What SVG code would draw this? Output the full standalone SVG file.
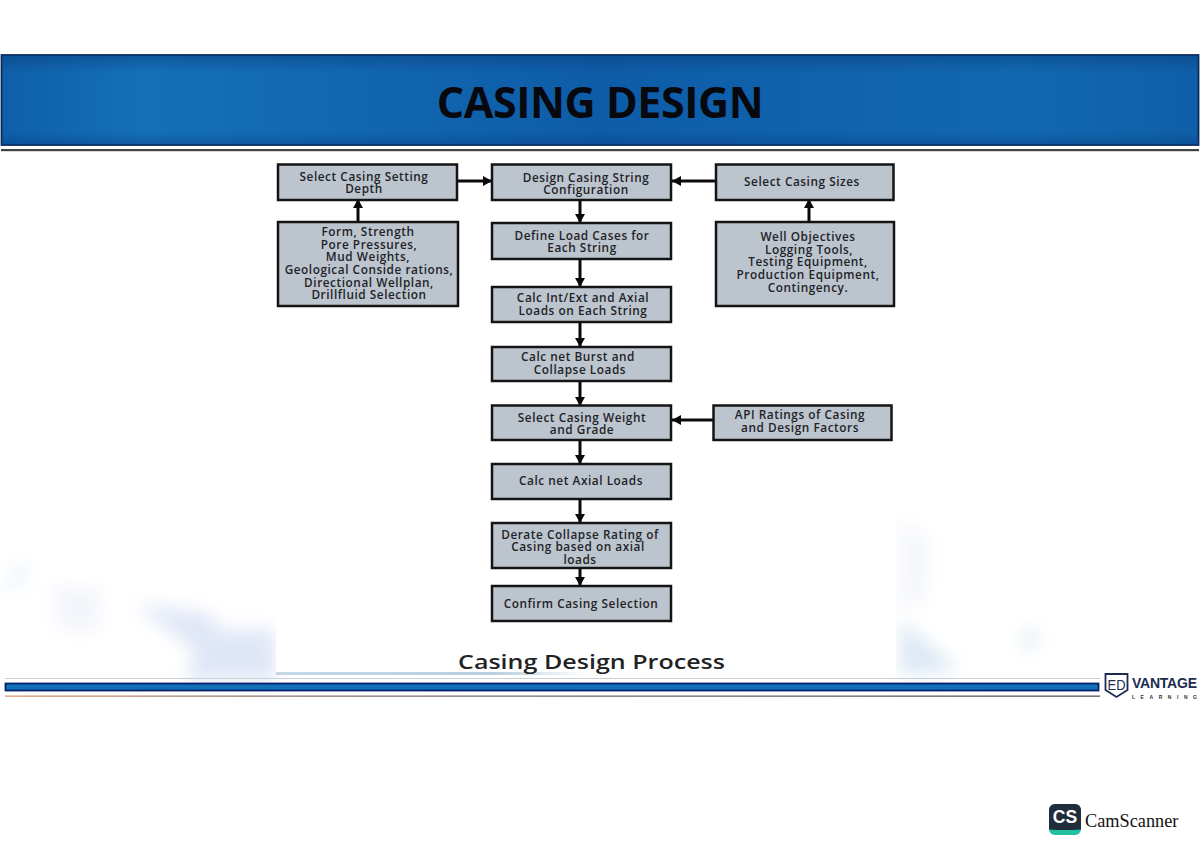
<svg xmlns="http://www.w3.org/2000/svg" width="1200" height="848" viewBox="0 0 1200 848">
<style>
.box{fill:#bcc5ce;stroke:#141414;stroke-width:2.5}
.t{font-family:"Open Sans","DejaVu Sans",sans-serif;font-size:11.8px;font-weight:600;letter-spacing:.55px;fill:#1f2328;text-anchor:middle}
.c{stroke:#0a0a0a;stroke-width:3;fill:none}
</style>
<defs>
<marker id="ah" markerUnits="userSpaceOnUse" markerWidth="12" markerHeight="12" refX="9" refY="5" orient="auto"><path d="M0 0L9 5L0 10Z" fill="#0a0a0a"/></marker>
<linearGradient id="band" x1="0" x2="1" y1="0" y2="0"><stop offset="0" stop-color="#0e5fa9"/><stop offset=".12" stop-color="#1570b8"/><stop offset=".5" stop-color="#0e5ca8"/><stop offset=".85" stop-color="#1268b0"/><stop offset="1" stop-color="#0f5fa8"/></linearGradient>
<linearGradient id="bandv" x1="0" x2="0" y1="0" y2="1"><stop offset="0" stop-color="#0a3f80" stop-opacity=".5"/><stop offset=".2" stop-color="#0a3f80" stop-opacity="0"/><stop offset=".85" stop-color="#0a3f80" stop-opacity="0"/><stop offset="1" stop-color="#0a3f80" stop-opacity=".45"/></linearGradient>
<linearGradient id="rule" x1="0" x2="1" y1="0" y2="0"><stop offset="0" stop-color="#d89a70"/><stop offset=".25" stop-color="#8a7a70"/><stop offset="1" stop-color="#555"/></linearGradient>
<linearGradient id="strip" x1="0" x2="1" y1="0" y2="0"><stop offset="0" stop-color="#c4d8e8"/><stop offset=".35" stop-color="#b8cede"/><stop offset=".5" stop-color="#fff"/><stop offset="1" stop-color="#fff"/></linearGradient>
<filter id="blur" x="-40%" y="-40%" width="180%" height="180%"><feGaussianBlur stdDeviation="9"/></filter>
</defs>
<rect width="1200" height="848" fill="#fff"/>
<g filter="url(#blur)">
<path d="M0 590L24 558L30 575L18 588Z" fill="#ecf5fa"/>
<path d="M54 585L100 590L100 630L58 630Z" fill="#f3f5fb"/>
<path d="M135 605L205 612L222 630L276 630L276 680L185 680L195 650Z" fill="#dfe6f6"/>
<path d="M900 520L930 540L925 600L900 610Z" fill="#f4f6fa"/>
<path d="M900 620L960 670L900 675Z" fill="#dce8f4"/>
<path d="M1020 632L1040 632L1038 648L1024 648Z" fill="#e2ebf4"/>
</g>
<rect x="276" y="440" width="620" height="234" fill="#fff"/>
<rect x="276" y="672" width="620" height="3" fill="url(#strip)"/>
<g id="header">
<rect x="1.500" y="55" width="1197" height="90" fill="url(#band)" stroke="#0a2a5c" stroke-width="1.800"/>
<rect x="1.500" y="55" width="1197" height="90" fill="url(#bandv)"/>
<rect x="1" y="149" width="1198" height="2.200" fill="#444"/>
<text x="600" y="118" font-family="'Open Sans','Liberation Sans',sans-serif" font-size="43" font-weight="700" letter-spacing="-.45" fill="#07090e" text-anchor="middle">CASING DESIGN</text>
</g>
<g id="connectors">
<path class="c" d="M458 181H492" marker-end="url(#ah)"/>
<path class="c" d="M716 181H672" marker-end="url(#ah)"/>
<path class="c" d="M358 222V199" marker-end="url(#ah)"/>
<path class="c" d="M809 222V199" marker-end="url(#ah)"/>
<path class="c" d="M580 200V223" marker-end="url(#ah)"/>
<path class="c" d="M580 259V287" marker-end="url(#ah)"/>
<path class="c" d="M580 322V347" marker-end="url(#ah)"/>
<path class="c" d="M580 381V406" marker-end="url(#ah)"/>
<path class="c" d="M714 420H672" marker-end="url(#ah)"/>
<path class="c" d="M580 440V464" marker-end="url(#ah)"/>
<path class="c" d="M580 499V523" marker-end="url(#ah)"/>
<path class="c" d="M580 568V586" marker-end="url(#ah)"/>
</g>
<g id="n1"><rect class="box" x="278" y="164.500" width="179" height="35.500"/><text class="t" x="364" y="180.500">Select Casing Setting</text><text class="t" x="364" y="193">Depth</text></g>
<g id="n2"><rect class="box" x="278" y="222" width="180" height="84"/><text class="t" x="368" y="236">Form, Strength</text><text class="t" x="369" y="248.500">Pore Pressures,</text><text class="t" x="368" y="261">Mud Weights,</text><text class="t" x="369" y="274">Geological Conside rations,</text><text class="t" x="369" y="286.500">Directional Wellplan,</text><text class="t" x="369" y="299">Drillfluid Selection</text></g>
<g id="n3"><rect class="box" x="492" y="164.500" width="179" height="35.500"/><text class="t" x="586" y="181.500">Design Casing String</text><text class="t" x="586" y="194">Configuration</text></g>
<g id="n4"><rect class="box" x="716" y="164.500" width="177.500" height="35.500"/><text class="t" x="802" y="185.500">Select Casing Sizes</text></g>
<g id="n5"><rect class="box" x="716" y="222" width="178" height="84"/><text class="t" x="808" y="241">Well Objectives</text><text class="t" x="809" y="254">Logging Tools,</text><text class="t" x="808" y="266">Testing Equipment,</text><text class="t" x="808" y="279">Production Equipment,</text><text class="t" x="808" y="292">Contingency.</text></g>
<g id="n6"><rect class="box" x="492" y="223" width="179" height="36"/><text class="t" x="582" y="239.500">Define Load Cases for</text><text class="t" x="582" y="252">Each String</text></g>
<g id="n7"><rect class="box" x="492" y="287" width="179" height="35"/><text class="t" x="583" y="302">Calc Int/Ext and Axial</text><text class="t" x="583" y="315">Loads on Each String</text></g>
<g id="n8"><rect class="box" x="492" y="347" width="179" height="34"/><text class="t" x="578" y="361">Calc net Burst and</text><text class="t" x="580" y="373.500">Collapse Loads</text></g>
<g id="n9"><rect class="box" x="492" y="405.500" width="179" height="34.500"/><text class="t" x="582" y="422">Select Casing Weight</text><text class="t" x="582" y="434">and Grade</text></g>
<g id="n10"><rect class="box" x="713.500" y="405.500" width="178" height="34.500"/><text class="t" x="800" y="419">API Ratings of Casing</text><text class="t" x="800" y="432">and Design Factors</text></g>
<g id="n11"><rect class="box" x="492" y="464" width="179" height="35"/><text class="t" x="581" y="484.500">Calc net Axial Loads</text></g>
<g id="n12"><rect class="box" x="492" y="523" width="179" height="45"/><text class="t" x="580" y="538.500">Derate Collapse Rating of</text><text class="t" x="578" y="551">Casing based on axial</text><text class="t" x="580" y="564">loads</text></g>
<g id="n13"><rect class="box" x="492" y="586" width="179" height="35"/><text class="t" x="581" y="608">Confirm Casing Selection</text></g>
<text x="458" y="669" font-family="'Open Sans',sans-serif" font-size="19" font-weight="600" fill="#232323" textLength="267" lengthAdjust="spacingAndGlyphs">Casing Design Process</text>
<g id="footer">
<rect x="5" y="678" width="1095" height="1" fill="#c8d0d6"/>
<rect x="5.500" y="683.500" width="1093" height="7" fill="#1170b8" stroke="#05206e" stroke-width="1.800"/>
<rect x="5" y="695.500" width="1095" height="1.300" fill="url(#rule)"/>
</g>
<g id="logo">
<path d="M1105.500 674H1127.500V690L1116.500 697L1105.500 690Z" fill="#fff" stroke="#1c2c50" stroke-width="1.800"/>
<text x="1116.500" y="690" font-family="'Liberation Sans',sans-serif" font-size="15" fill="#1c2c50" text-anchor="middle" textLength="18" lengthAdjust="spacingAndGlyphs">ED</text>
<text x="1132" y="688" font-family="'Liberation Sans',sans-serif" font-size="14" font-weight="700" fill="#1c2c50" textLength="65" lengthAdjust="spacing">VANTAGE</text>
<text x="1132" y="699" font-family="'Liberation Sans',sans-serif" font-size="5" font-weight="700" fill="#333" textLength="65" lengthAdjust="spacing">LEARNING</text>
</g>
<g id="camscanner">
<rect x="1049" y="804" width="32" height="31" rx="6" fill="#20c0a0"/>
<path d="M1049 810a6 6 0 0 1 6-6h20a6 6 0 0 1 6 6v19.500q-16 1-32 0Z" fill="#1f2d3d"/>
<text x="1065" y="823" font-family="'Liberation Sans',sans-serif" font-size="17.500" font-weight="700" fill="#fff" text-anchor="middle">CS</text>
<text x="1085" y="827" font-family="'Liberation Serif',serif" font-size="18.300" fill="#111">CamScanner</text>
</g>
</svg>
